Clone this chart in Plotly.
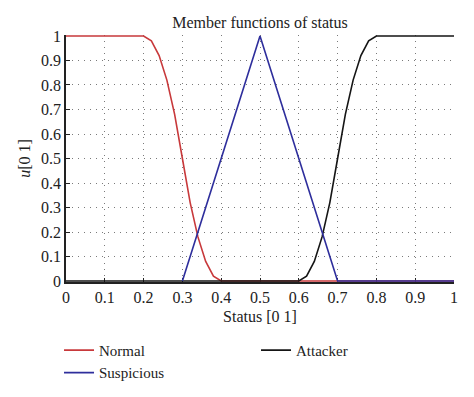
import plotly.graph_objects as go

# Normal (Z-shaped) membership
normal_x = [0, 0.2, 0.22, 0.24, 0.26, 0.28, 0.30, 0.32, 0.34, 0.36, 0.38, 0.40, 1.0]
normal_y = [1, 1, 0.98, 0.92, 0.82, 0.68, 0.50, 0.32, 0.18, 0.08, 0.02, 0, 0]

# Attacker (S-shaped) membership
attacker_x = [0, 0.6, 0.62, 0.64, 0.66, 0.68, 0.70, 0.72, 0.74, 0.76, 0.78, 0.80, 1.0]
attacker_y = [0, 0, 0.02, 0.08, 0.18, 0.32, 0.50, 0.68, 0.82, 0.92, 0.98, 1, 1]

# Suspicious (triangular) membership
suspicious_x = [0.3, 0.5, 0.7, 1.0]
suspicious_y = [0, 1, 0, 0]

tick_vals = [0, 0.1, 0.2, 0.3, 0.4, 0.5, 0.6, 0.7, 0.8, 0.9, 1]
tick_text = ["0", "0.1", "0.2", "0.3", "0.4", "0.5", "0.6", "0.7", "0.8", "0.9", "1"]

FONT = "Liberation Serif"

fig = go.Figure()
fig.add_trace(go.Scatter(x=normal_x, y=normal_y, mode="lines", name="Normal",
                         line=dict(color="#c8393b", width=1.6)))
fig.add_trace(go.Scatter(x=attacker_x, y=attacker_y, mode="lines", name="Attacker",
                         line=dict(color="#151515", width=1.6)))
fig.add_trace(go.Scatter(x=suspicious_x, y=suspicious_y, mode="lines", name="Suspicious",
                         line=dict(color="#2e2e9c", width=1.6)))

axis_common = dict(
    showgrid=True, gridcolor="#7a7a7a", griddash="1px,5px", gridwidth=1,
    showline=True, linecolor="#222", linewidth=1.5,
    ticks="inside", ticklen=4, tickcolor="#222", tickwidth=1,
    zeroline=False, layer="below traces",
    tickfont=dict(family=FONT, size=16, color="#222"),
    tickvals=tick_vals, ticktext=tick_text,
)

fig.update_layout(
    width=474, height=397,
    margin=dict(l=58, r=28, t=27, b=123, autoexpand=False),
    paper_bgcolor="white", plot_bgcolor="white",
    font=dict(family=FONT, size=16, color="#222"),
    title=dict(text="Member functions of status", x=0.5, xref="paper",
               y=0.977, yref="container", yanchor="top",
               font=dict(family=FONT, size=16, color="#222")),
    xaxis=dict(range=[0, 1.0], title=dict(text="Status [0 1]", standoff=6,
               font=dict(family=FONT, size=16)), **axis_common),
    yaxis=dict(range=[-0.004, 1.004], title=dict(text="<i>u</i>[0 1]", standoff=6,
               font=dict(family=FONT, size=16)), **axis_common),
    legend=dict(orientation="h", x=-0.018, xanchor="left", y=-0.21, yanchor="top",
                entrywidth=152, entrywidthmode="pixels", tracegroupgap=0,
                font=dict(family=FONT, size=15, color="#222"),
                bgcolor="rgba(0,0,0,0)"),
    showlegend=True,
)

fig.write_html("out.html")
